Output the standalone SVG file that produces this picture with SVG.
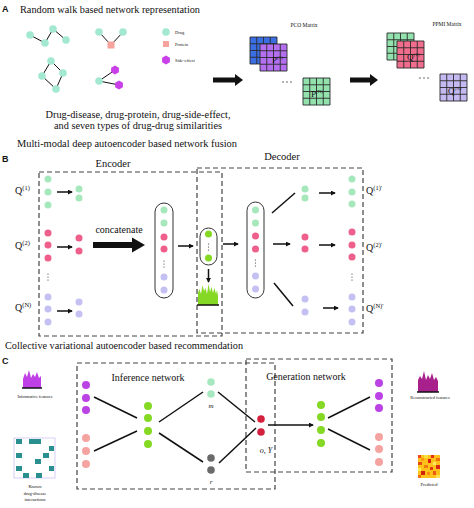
<svg xmlns="http://www.w3.org/2000/svg" xmlns:xlink="http://www.w3.org/1999/xlink" width="474" height="508" viewBox="0 0 474 508">
<style>
.t{font-family:"Liberation Serif","Times New Roman",serif;fill:#111}
.lbl{font-family:"Liberation Sans",Arial,sans-serif;font-weight:bold;fill:#111}
.e{stroke:#111;stroke-width:1;fill:none}
.th{stroke:#111;stroke-width:1.5;fill:none}
.ar{stroke:#111;stroke-width:1.5;fill:none;marker-end:url(#ah)}
.dash{fill:none;stroke:#444;stroke-width:1.2;stroke-dasharray:5 3}
.cap{fill:#fff;stroke:#333;stroke-width:1}
.drug{fill:#a3e8d0}
.prot{fill:#f5a39c}
.side{fill:#c940e8}
.g{fill:#a6e8bc}
.p{fill:#ee5f8b}
.l{fill:#c5c0f2}
.lime{fill:#85d925}
.pur{fill:#bb42e4}
.sal{fill:#f5a3a0}
.dot{fill:#333}
.gl{stroke:#2a2a2a;stroke-width:0.9;fill:none}
</style>
<defs>
<marker id="ah" viewBox="0 0 6 6" refX="5" refY="3" markerWidth="5" markerHeight="5" markerUnits="userSpaceOnUse" orient="auto"><path d="M0,0L6,3L0,6z" fill="#111"/></marker>
<path id="gridp" d="M0,0h27v27h-27z M6.75,0v27 M13.5,0v27 M20.25,0v27 M0,6.75h27 M0,13.5h27 M0,20.25h27"/>
<polygon id="hex" points="0,-4.5 3.9,-2.25 3.9,2.25 0,4.5 -3.9,2.25 -3.9,-2.25"/>
</defs>

<!-- Section A -->
<text class="lbl" x="2" y="12" font-size="9">A</text>
<text class="t" x="20" y="13" font-size="10.5" textLength="180" lengthAdjust="spacingAndGlyphs">Random walk based network representation</text>

<g id="graph1">
<path class="e" d="M30,35L45,43L53,29L66,40"/>
<circle class="drug" cx="30" cy="35" r="3.8"/><circle class="drug" cx="45" cy="43" r="3.8"/><circle class="drug" cx="53" cy="29" r="3.8"/><circle class="drug" cx="66" cy="40" r="3.8"/>
</g>
<g id="graph2">
<path class="e" d="M99,32L111,45L123,32"/>
<circle class="drug" cx="99" cy="32" r="3.8"/><circle class="drug" cx="123" cy="32" r="3.8"/>
<rect class="prot" x="107.5" y="41.5" width="7" height="7"/>
</g>
<g id="graph3">
<path class="e" d="M51,61L63,73L56,89L42,76Z"/>
<circle class="drug" cx="51" cy="61" r="3.8"/><circle class="drug" cx="63" cy="73" r="3.8"/><circle class="drug" cx="42" cy="76" r="3.8"/><circle class="drug" cx="56" cy="89" r="3.8"/>
</g>
<g id="graph4">
<path class="e" d="M115,70L99,81L119,85"/>
<circle class="drug" cx="99" cy="81" r="3.8"/>
<use href="#hex" class="side" x="115" y="70"/><use href="#hex" class="side" x="119" y="85"/>
</g>
<g id="legend">
<circle class="drug" cx="166" cy="32" r="3.8"/>
<text class="t" x="175" y="34" font-size="4.5">Drug</text>
<rect class="prot" x="163" y="41" width="6" height="6"/>
<text class="t" x="175" y="46" font-size="4.5">Protein</text>
<use href="#hex" class="side" x="166" y="60"/>
<text class="t" x="175" y="62" font-size="4.5">Side-effect</text>
</g>
<text class="t" x="138" y="118" font-size="10.5" text-anchor="middle" textLength="185" lengthAdjust="spacingAndGlyphs">Drug-disease, drug-protein, drug-side-effect,</text>
<text class="t" x="138" y="129" font-size="10.5" text-anchor="middle" textLength="168" lengthAdjust="spacingAndGlyphs">and seven types of drug-drug similarities</text>

<g id="arrowA1"><rect x="213" y="77.5" width="23" height="5" fill="#111"/><polygon points="235,74 243,80 235,86" fill="#111"/></g>

<g id="pco">
<text class="t" x="304" y="27" font-size="5.5" text-anchor="middle">PCO Matrix</text>
<g transform="translate(250,37)"><rect width="27" height="27" fill="#3b6ee3"/><use href="#gridp" class="gl"/></g>
<g transform="translate(260,44)"><rect width="27" height="27" fill="#b46ff0"/><use href="#gridp" class="gl"/></g>
<text class="t" x="272" y="63" font-size="9">P<tspan font-size="5" dy="-4">(1)</tspan></text>
<circle class="dot" cx="283" cy="82" r="0.7"/><circle class="dot" cx="287" cy="82" r="0.7"/><circle class="dot" cx="291" cy="82" r="0.7"/>
<g transform="translate(303,78)"><rect width="27" height="27" fill="#93e2ad"/><use href="#gridp" class="gl"/></g>
<text class="t" x="311" y="97" font-size="9">P<tspan font-size="5" dy="-4">(N)</tspan></text>
</g>

<g id="arrowA2"><rect x="350" y="77.5" width="21" height="5" fill="#111"/><polygon points="370,74 378,80 370,86" fill="#111"/></g>

<g id="ppmi">
<text class="t" x="447" y="26" font-size="5.5" text-anchor="middle">PPMI Matrix</text>
<g transform="translate(387,33)"><rect width="27" height="27" fill="#93e2ad"/><use href="#gridp" class="gl"/></g>
<g transform="translate(397,41)"><rect width="27" height="27" fill="#f06d8e"/><use href="#gridp" class="gl"/></g>
<text class="t" x="407" y="60" font-size="9">Q<tspan font-size="5" dy="-4">(1)</tspan></text>
<circle class="dot" cx="420" cy="78" r="0.7"/><circle class="dot" cx="424" cy="78" r="0.7"/><circle class="dot" cx="428" cy="78" r="0.7"/>
<g transform="translate(440,74)"><rect width="27" height="27" fill="#c4b9f0"/><use href="#gridp" class="gl"/></g>
<text class="t" x="448" y="94" font-size="9">Q<tspan font-size="5" dy="-4">(N)</tspan></text>
</g>

<!-- Section B -->
<text class="t" x="17" y="147" font-size="10.5" textLength="220" lengthAdjust="spacingAndGlyphs">Multi-modal deep autoencoder based network fusion</text>
<text class="lbl" x="2" y="162" font-size="9">B</text>

<g id="boxes-B">
<rect class="dash" x="39" y="172" width="183" height="164"/>
<rect class="dash" x="197" y="168" width="166" height="165"/>
</g>
<text class="t" x="113" y="167" font-size="10.5" text-anchor="middle">Encoder</text>
<text class="t" x="282" y="160" font-size="10.5" text-anchor="middle">Decoder</text>

<g id="q-in">
<text class="t" x="15" y="194" font-size="10">Q<tspan font-size="6.5" dy="-4">(1)</tspan></text>
<text class="t" x="15" y="249" font-size="10">Q<tspan font-size="6.5" dy="-4">(2)</tspan></text>
<text class="t" x="15" y="311" font-size="10">Q<tspan font-size="6.5" dy="-4">(N)</tspan></text>
<circle class="g" cx="48" cy="179" r="3.5"/><circle class="g" cx="48" cy="192" r="3.5"/><circle class="g" cx="48" cy="205" r="3.5"/>
<circle class="p" cx="48" cy="233" r="3.5"/><circle class="p" cx="48" cy="245" r="3.5"/><circle class="p" cx="48" cy="258" r="3.5"/>
<circle class="dot" cx="48" cy="274" r="0.6"/><circle class="dot" cx="48" cy="277" r="0.6"/><circle class="dot" cx="48" cy="280" r="0.6"/>
<circle class="l" cx="48" cy="297" r="3.5"/><circle class="l" cx="48" cy="309" r="3.5"/><circle class="l" cx="48" cy="322" r="3.5"/>
</g>
<g id="enc-hidden">
<circle class="g" cx="79" cy="189" r="3.5"/><circle class="g" cx="79" cy="198" r="3.5"/>
<circle class="p" cx="79" cy="238" r="3.5"/><circle class="p" cx="79" cy="251" r="3.5"/>
<circle class="l" cx="79" cy="302" r="3.5"/><circle class="l" cx="79" cy="314" r="3.5"/>
</g>
<text class="t" x="119" y="233" font-size="10" text-anchor="middle">concatenate</text>

<g id="concat">
<rect class="cap" x="155" y="203" width="18" height="95" rx="9"/>
<circle class="g" cx="164" cy="210" r="3.5"/><circle class="g" cx="164" cy="223" r="3.5"/>
<circle class="p" cx="164" cy="237" r="3.5"/><circle class="p" cx="164" cy="249" r="3.5"/>
<circle class="dot" cx="164" cy="261" r="0.6"/><circle class="dot" cx="164" cy="264" r="0.6"/><circle class="dot" cx="164" cy="267" r="0.6"/>
<circle class="l" cx="164" cy="277" r="3.5"/><circle class="l" cx="164" cy="290" r="3.5"/>
</g>
<g id="latent">
<rect class="cap" x="200" y="228" width="17" height="37" rx="8.5"/>
<circle class="lime" cx="208.5" cy="234" r="3.5"/>
<circle class="dot" cx="208.5" cy="244" r="0.6"/><circle class="dot" cx="208.5" cy="247" r="0.6"/><circle class="dot" cx="208.5" cy="250" r="0.6"/>
<circle class="lime" cx="208.5" cy="258" r="3.5"/>
</g>
<g id="latent-hist">
<path d="M198,305L198,293L199.5,289L201,294L202.5,285L204,291L205.5,288L207,294L208.5,284L210,292L211.5,287L213,293L214.5,288L216,294L217,290L218,296L218,305Z" fill="#85d925"/>
<line x1="197" y1="305" x2="219" y2="305" stroke="#111" stroke-width="1.5"/>
</g>
<g id="decoder-cap">
<rect class="cap" x="247" y="202" width="17" height="96" rx="8.5"/>
<circle class="g" cx="255.5" cy="210" r="3.5"/><circle class="g" cx="255.5" cy="223" r="3.5"/>
<circle class="p" cx="255.5" cy="236" r="3.5"/><circle class="p" cx="255.5" cy="249" r="3.5"/>
<circle class="dot" cx="255.5" cy="260" r="0.6"/><circle class="dot" cx="255.5" cy="263" r="0.6"/><circle class="dot" cx="255.5" cy="266" r="0.6"/>
<circle class="l" cx="255.5" cy="276" r="3.5"/><circle class="l" cx="255.5" cy="289" r="3.5"/>
</g>
<g id="dec-hidden">
<circle class="g" cx="305" cy="189" r="3.5"/><circle class="g" cx="305" cy="198" r="3.5"/>
<circle class="p" cx="305" cy="237" r="3.5"/><circle class="p" cx="305" cy="249" r="3.5"/>
<circle class="l" cx="305" cy="299" r="3.5"/><circle class="l" cx="305" cy="312" r="3.5"/>
</g>
<g id="q-out">
<circle class="g" cx="352" cy="179" r="3.5"/><circle class="g" cx="352" cy="192" r="3.5"/><circle class="g" cx="352" cy="204" r="3.5"/>
<circle class="p" cx="352" cy="232" r="3.5"/><circle class="p" cx="352" cy="245" r="3.5"/><circle class="p" cx="352" cy="257" r="3.5"/>
<circle class="dot" cx="352" cy="274" r="0.6"/><circle class="dot" cx="352" cy="277" r="0.6"/><circle class="dot" cx="352" cy="280" r="0.6"/>
<circle class="l" cx="352" cy="297" r="3.5"/><circle class="l" cx="352" cy="309" r="3.5"/><circle class="l" cx="352" cy="322" r="3.5"/>
<text class="t" x="366" y="194" font-size="10">Q<tspan font-size="6.5" dy="-4">(1)'</tspan></text>
<text class="t" x="366" y="251" font-size="10">Q<tspan font-size="6.5" dy="-4">(2)'</tspan></text>
<text class="t" x="366" y="312" font-size="10">Q<tspan font-size="6.5" dy="-4">(N)'</tspan></text>
</g>

<g id="connectors-B">
<line class="ar" x1="57" y1="192" x2="72" y2="192"/>
<line class="ar" x1="57" y1="247" x2="72" y2="247"/>
<line class="ar" x1="57" y1="311" x2="72" y2="311"/>
<rect x="93" y="242" width="40" height="6" fill="#111"/><polygon points="132,237.5 145,245 132,252.5" fill="#111"/>
<line class="ar" x1="178" y1="246" x2="193" y2="246"/>
<line class="ar" x1="208.5" y1="269" x2="208.5" y2="282"/>
<line class="ar" x1="223" y1="244" x2="238" y2="244"/>
<line class="th" x1="272" y1="213" x2="295" y2="193"/>
<line class="ar" x1="273" y1="244" x2="290" y2="244"/>
<line class="th" x1="274" y1="283" x2="293" y2="306"/>
<line class="ar" x1="319" y1="193" x2="335" y2="193"/>
<line class="ar" x1="319" y1="245" x2="335" y2="245"/>
<line class="ar" x1="323" y1="308" x2="338" y2="308"/>
</g>

<!-- Section C -->
<text class="t" x="5" y="349" font-size="10.5" textLength="238" lengthAdjust="spacingAndGlyphs">Collective variational autoencoder based recommendation</text>
<text class="lbl" x="2" y="364" font-size="9">C</text>

<g id="boxes-C">
<rect class="dash" x="77" y="363" width="198" height="126"/>
<rect class="dash" x="246" y="359" width="146" height="113"/>
</g>
<text class="t" x="148" y="381" font-size="10" text-anchor="middle">Inference network</text>
<text class="t" x="306" y="380" font-size="10" text-anchor="middle">Generation network</text>

<g id="informative">
<path d="M23,388L23,379L25,373L27,377L29,370L31,378L33,374L35,377L37,372L39,378L41,376L41,388Z" fill="#c040e8"/>
<line x1="22" y1="388" x2="42" y2="388" stroke="#111" stroke-width="1.5"/>
<text class="t" x="35" y="398" font-size="4.3" text-anchor="middle">Informative features</text>
</g>
<g id="known">
<rect x="14" y="438" width="41" height="40" fill="#fff" stroke="#c8b8f0" stroke-width="0.7"/>
<g fill="#2a8f8f">
<rect x="16" y="439" width="6" height="5"/><rect x="29" y="439" width="12" height="5"/><rect x="49" y="446" width="5" height="5"/>
<rect x="16" y="453" width="6" height="5"/><rect x="43" y="453" width="6" height="5"/><rect x="35" y="459" width="6" height="5"/>
<rect x="16" y="466" width="6" height="5"/><rect x="49" y="466" width="5" height="5"/><rect x="23" y="473" width="6" height="5"/><rect x="36" y="473" width="6" height="5"/>
</g>
<text class="t" x="35" y="488" font-size="4.5" text-anchor="middle">Known</text>
<text class="t" x="35" y="494.5" font-size="4.5" text-anchor="middle">drug-disease</text>
<text class="t" x="35" y="501" font-size="4.5" text-anchor="middle">interactions</text>
</g>
<g id="inf-in">
<circle class="pur" cx="86" cy="385" r="4"/><circle class="pur" cx="86" cy="398" r="4"/><circle class="pur" cx="86" cy="410" r="4"/>
<circle class="sal" cx="86" cy="438" r="4"/><circle class="sal" cx="86" cy="451" r="4"/><circle class="sal" cx="86" cy="464" r="4"/>
</g>
<g id="inf-mid">
<circle class="lime" cx="148" cy="406" r="4"/><circle class="lime" cx="148" cy="418" r="4"/><circle class="lime" cx="148" cy="431" r="4"/><circle class="lime" cx="148" cy="444" r="4"/>
</g>
<g id="m-node">
<circle cx="211" cy="382" r="3.8" fill="#a8e8c0"/><circle cx="211" cy="394" r="3.8" fill="#a8e8c0"/>
<text class="t" x="211" y="408" font-size="7" font-style="italic" text-anchor="middle">m</text>
</g>
<g id="r-node">
<circle cx="211" cy="458" r="3.8" fill="#6a6a6a"/><circle cx="211" cy="470" r="3.8" fill="#6a6a6a"/>
<text class="t" x="211" y="484" font-size="7" font-style="italic" text-anchor="middle">r</text>
</g>
<g id="oY-node">
<circle cx="261" cy="419" r="3.8" fill="#d4203c"/><circle cx="261" cy="432" r="3.8" fill="#d4203c"/>
<text class="t" x="266" y="453" font-size="8" font-style="italic" text-anchor="middle">o, Υ</text>
</g>
<g id="gen-mid">
<circle class="lime" cx="321" cy="405" r="4"/><circle class="lime" cx="321" cy="417" r="4"/><circle class="lime" cx="321" cy="430" r="4"/><circle class="lime" cx="321" cy="443" r="4"/>
</g>
<g id="gen-out">
<circle class="pur" cx="379" cy="383" r="4"/><circle class="pur" cx="379" cy="396" r="4"/><circle class="pur" cx="379" cy="408" r="4"/>
<circle class="sal" cx="379" cy="437" r="4"/><circle class="sal" cx="379" cy="449" r="4"/><circle class="sal" cx="379" cy="462" r="4"/>
</g>
<g id="reconstructed">
<path d="M418,392L418,380L420,376L422,379L424,371L426,380L428,375L430,379L432,373L434,380L436,377L438,381L438,392Z" fill="#a8208c"/>
<line x1="417" y1="392" x2="439" y2="392" stroke="#111" stroke-width="1.5"/>
<text class="t" x="430" y="399" font-size="4.3" text-anchor="middle">Reconstructed features</text>
</g>
<g id="predicted">
<rect x="418" y="455" width="22" height="23" fill="#ffc21a"/>
<g>
<rect x="418" y="455" width="3" height="3" fill="#f04a10"/><rect x="424" y="455" width="4" height="3" fill="#ffe040"/><rect x="431" y="455" width="3" height="3" fill="#e83010"/><rect x="436" y="458" width="4" height="3" fill="#f07010"/>
<rect x="421" y="458" width="3" height="3" fill="#ff9a10"/><rect x="428" y="459" width="3" height="4" fill="#d82010"/><rect x="418" y="462" width="4" height="3" fill="#e84a14"/><rect x="433" y="462" width="3" height="3" fill="#ffe860"/>
<rect x="424" y="465" width="4" height="3" fill="#f07a10"/><rect x="436" y="465" width="4" height="4" fill="#d82814"/><rect x="418" y="468" width="3" height="3" fill="#ffea50"/><rect x="430" y="467" width="3" height="3" fill="#e83a10"/>
<rect x="421" y="471" width="4" height="4" fill="#d02010"/><rect x="427" y="472" width="3" height="3" fill="#ff8a10"/><rect x="433" y="471" width="3" height="4" fill="#f05a10"/><rect x="418" y="475" width="3" height="3" fill="#f07010"/><rect x="436" y="475" width="4" height="3" fill="#ffe050"/>
</g>
<text class="t" x="429" y="486" font-size="4.5" text-anchor="middle">Predicted</text>
</g>

<g id="connectors-C">
<line class="th" x1="94" y1="397" x2="137" y2="418"/>
<line class="th" x1="94" y1="451" x2="137" y2="431"/>
<line class="th" x1="159" y1="422" x2="203" y2="392"/>
<line class="th" x1="159" y1="433" x2="203" y2="462"/>
<line class="th" x1="218" y1="392" x2="255" y2="422"/>
<line class="th" x1="219" y1="463" x2="256" y2="428"/>
<line class="ar" x1="268" y1="425" x2="313" y2="425"/>
<line class="th" x1="328" y1="418" x2="370" y2="397"/>
<line class="th" x1="328" y1="429" x2="370" y2="450"/>
</g>
</svg>
